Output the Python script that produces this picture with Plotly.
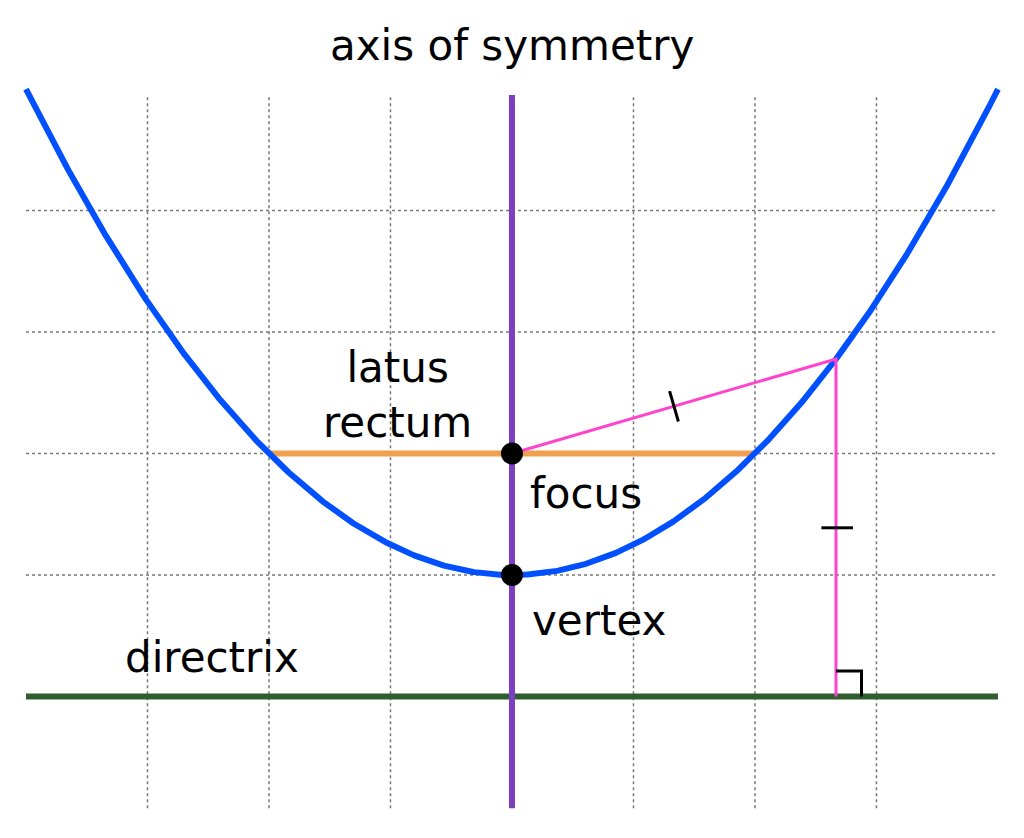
import numpy as np
import plotly.graph_objects as go

# parabola y = x^2 / 4 (focal distance 1)
P = 1.0
CURVE_X = np.linspace(-4, 4, 801)
CURVE_Y = CURVE_X ** 2 / (4 * P)
GRID_X = [-3, -2, -1, 1, 2, 3]
GRID_Y = [0, 1, 2, 3]
LATUS_X = [-2, 2]
PT_X = 8 / 3
PT_Y = PT_X ** 2 / 4

BLUE = "#0050ff"
PURPLE = "#7b3fbf"
GREEN = "#2e5e2e"
ORANGE = "#f0a050"
PINK = "#ff44cc"
FONT = "DejaVu Sans"

fig = go.Figure()
for gx in GRID_X:
    fig.add_trace(go.Scatter(x=[gx, gx], y=[-1.92, 3.95], mode="lines",
                             line=dict(color="#777", width=1.5, dash="dot")))
for gy in GRID_Y:
    fig.add_trace(go.Scatter(x=[-4, 4], y=[gy, gy], mode="lines",
                             line=dict(color="#777", width=1.5, dash="dot")))

fig.add_trace(go.Scatter(x=[-4, 4], y=[-1, -1], mode="lines", line=dict(color=GREEN, width=6)))
fig.add_trace(go.Scatter(x=LATUS_X, y=[P, P], mode="lines", line=dict(color=ORANGE, width=6)))
fig.add_trace(go.Scatter(x=[0, 0], y=[-1.92, 3.95], mode="lines", line=dict(color=PURPLE, width=6)))
fig.add_trace(go.Scatter(x=CURVE_X, y=CURVE_Y, mode="lines", line=dict(color=BLUE, width=6)))

# pink distances
fig.add_trace(go.Scatter(x=[0, PT_X, PT_X], y=[P, PT_Y, -1], mode="lines",
                         line=dict(color=PINK, width=3)))
# equal-length tick marks
mx, my = PT_X / 2, (P + PT_Y) / 2
dx, dy = PT_X, PT_Y - P
n = np.hypot(dx, dy)
ux, uy = -dy / n * 0.13, dx / n * 0.13
fig.add_trace(go.Scatter(x=[mx - ux, mx + ux], y=[my - uy, my + uy], mode="lines",
                         line=dict(color="black", width=3)))
vy = (PT_Y - 1) / 2
fig.add_trace(go.Scatter(x=[PT_X - 0.12, PT_X + 0.14], y=[vy, vy], mode="lines",
                         line=dict(color="black", width=3)))
# right-angle mark
fig.add_trace(go.Scatter(x=[PT_X, PT_X + 0.21, PT_X + 0.21], y=[-0.79, -0.79, -1],
                         mode="lines", line=dict(color="black", width=3)))

fig.add_trace(go.Scatter(x=[0, 0], y=[0, P], mode="markers",
                         marker=dict(color="black", size=22)))

labels = [
    (0, 4.36, "axis of symmetry", "center"),
    (-0.94, 1.48, "latus<br>rectum", "center"),
    (0.13, 0.67, "focus", "left"),
    (0.15, -0.37, "vertex", "left"),
    (-2.47, -0.68, "directrix", "center"),
]
for x, y, t, al in labels:
    fig.add_annotation(x=x, y=y, text=t, showarrow=False, align="center",
                       xanchor=al, font=dict(family=FONT, size=42, color="black"))

fig.update_layout(
    width=1024, height=838, showlegend=False,
    paper_bgcolor="white", plot_bgcolor="white",
    margin=dict(l=0, r=0, t=0, b=0),
    xaxis=dict(range=[-4.148, 4.28], visible=False, fixedrange=True),
    yaxis=dict(range=[-2.23, 4.667], visible=False, fixedrange=True),
)
fig.write_html("out.html")
